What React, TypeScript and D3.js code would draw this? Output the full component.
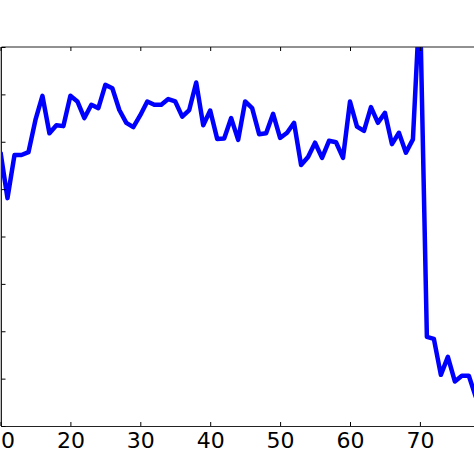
import React, { useEffect, useRef } from 'react';
import * as d3 from 'd3';

const steps = [
  10, 11, 12, 13, 14, 15, 16, 17, 18, 19,
  20, 21, 22, 23, 24, 25, 26, 27, 28, 29,
  30, 31, 32, 33, 34, 35, 36, 37, 38, 39,
  40, 41, 42, 43, 44, 45, 46, 47, 48, 49,
  50, 51, 52, 53, 54, 55, 56, 57, 58, 59,
  60, 61, 62, 63, 64, 65, 66, 67, 68, 69,
  70, 71, 72, 73, 74, 75, 76, 77, 78,
];
const values = [
  5.78, 4.81, 5.72, 5.72, 5.78, 6.46, 6.97, 6.18, 6.35, 6.33,
  6.97, 6.85, 6.5, 6.78, 6.71, 7.2, 7.13, 6.67, 6.4, 6.31,
  6.56, 6.85, 6.78, 6.78, 6.9, 6.85, 6.53, 6.67, 7.25, 6.35,
  6.66, 6.06, 6.07, 6.5, 6.04, 6.85, 6.71, 6.16, 6.18, 6.59,
  6.08, 6.19, 6.4, 5.51, 5.68, 5.98, 5.66, 6.02, 5.99, 5.66,
  6.85, 6.32, 6.23, 6.73, 6.4, 6.61, 5.95, 6.19, 5.77, 6.05,
  9.0, 1.88, 1.84, 1.08, 1.46, 0.94, 1.06, 1.06, 0.61,
];
const xTicks = [10, 20, 30, 40, 50, 60, 70];
const yTicks = [0, 1, 2, 3, 4, 5, 6, 7, 8];

const App = () => {
  const svgRef = useRef(null);

  useEffect(() => {
    const width = 474;
    const height = 474;
    const plot = { left: 1.5, top: 47, bottom: 426 };

    const svg = d3.select(svgRef.current);
    svg.selectAll('*').remove();

    const data = steps.map((s, i) => ({ x: s, y: values[i] }));

    // the figure is cropped: x=10 sits on the left edge, the right side runs off
    const xScale = d3.scaleLinear().domain([10, 90]).range([0.5, 0.5 + 80 * 6.99]);
    const yScale = d3.scaleLinear().domain([0, 8]).range([plot.bottom, plot.top]);

    svg.append('rect')
      .attr('width', width)
      .attr('height', height)
      .attr('fill', '#fff');

    // thin grey strip at the very left of the crop
    svg.append('rect')
      .attr('x', 0)
      .attr('y', plot.top)
      .attr('width', 1)
      .attr('height', plot.bottom - plot.top)
      .attr('fill', '#bbb');

    svg.append('clipPath')
      .attr('id', 'plot-clip')
      .append('rect')
      .attr('x', plot.left)
      .attr('y', plot.top)
      .attr('width', width)
      .attr('height', plot.bottom - plot.top);

    const line = d3.line()
      .x(d => xScale(d.x))
      .y(d => yScale(d.y));

    svg.append('path')
      .datum(data)
      .attr('clip-path', 'url(#plot-clip)')
      .attr('d', line)
      .attr('fill', 'none')
      .attr('stroke', '#0000ff')
      .attr('stroke-width', 4.5)
      .attr('stroke-linejoin', 'round');

    // spines
    svg.append('line')
      .attr('x1', plot.left).attr('x2', plot.left)
      .attr('y1', plot.top).attr('y2', plot.bottom)
      .attr('stroke', '#222').attr('stroke-width', 1);
    svg.append('line')
      .attr('x1', plot.left).attr('x2', width)
      .attr('y1', plot.top).attr('y2', plot.top)
      .attr('stroke', '#222').attr('stroke-width', 1);

    // bottom axis, ticks pointing inward
    const xAxis = svg.append('g')
      .attr('transform', `translate(0, ${plot.bottom})`)
      .call(d3.axisBottom(xScale).tickValues(xTicks).tickSizeInner(-4).tickSizeOuter(0).tickPadding(6.5));
    xAxis.select('.domain').attr('stroke', '#222');
    xAxis.selectAll('text')
      .attr('font-family', 'DejaVu Sans, sans-serif')
      .attr('font-size', 22)
      .attr('fill', '#000');

    // top ticks
    svg.append('g')
      .attr('transform', `translate(0, ${plot.top})`)
      .call(d3.axisTop(xScale).tickValues(xTicks).tickSizeInner(-4).tickSizeOuter(0).tickFormat(() => ''))
      .call(g => g.select('.domain').remove());

    // left ticks, labels fall outside the crop
    svg.append('g')
      .attr('transform', `translate(${plot.left}, 0)`)
      .call(d3.axisLeft(yScale).tickValues(yTicks).tickSizeInner(-4).tickSizeOuter(0).tickFormat(() => ''))
      .call(g => g.select('.domain').remove());
  }, []);

  return (
    <svg
      ref={svgRef}
      width="474"
      height="474"
      style={{ position: 'absolute', left: 0, top: 0, display: 'block' }}
    />
  );
};

export default App;
